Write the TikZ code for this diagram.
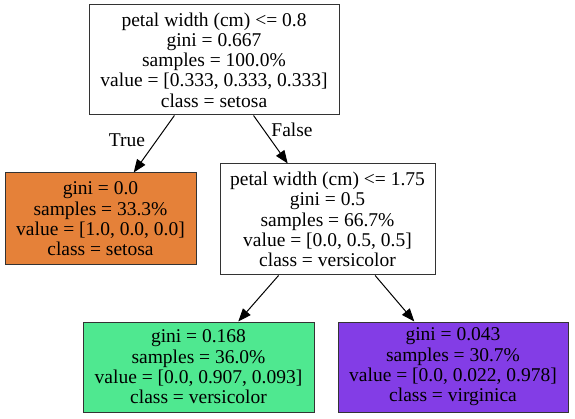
\documentclass[tikz,border=0pt]{standalone}
\usepackage{fontspec}
\setmainfont{Liberation Serif}
\usetikzlibrary{arrows.meta}
\definecolor{setosaC}{HTML}{E58139}
\definecolor{versiC}{HTML}{4FE890}
\definecolor{virgC}{HTML}{833DE6}
\definecolor{edgeC}{HTML}{333333}
\tikzset{
  treenode/.style={draw=edgeC, line width=1pt, rectangle, align=center, inner sep=0pt,
    font=\fontsize{19.5}{20.3}\selectfont},
  treeedge/.style={line width=1pt, -{Triangle[length=13pt,width=10pt]}},
  edgelabel/.style={font=\fontsize{19.5}{20.3}\selectfont, inner sep=0pt}
}
\begin{document}
\begin{tikzpicture}[x=1pt,y=-1pt]
\useasboundingbox (0,0) rectangle (575,419);
\node[treenode, minimum width=250pt, minimum height=110pt] (root) at (214,60)
  {petal width (cm) <= 0.8\\gini = 0.667\\samples = 100.0\%\\value = [0.333, 0.333, 0.333]\\class = setosa};
\node[treenode, fill=setosaC, minimum width=191pt, minimum height=92pt] (left) at (100.5,219)
  {gini = 0.0\\samples = 33.3\%\\value = [1.0, 0.0, 0.0]\\class = setosa};
\node[treenode, minimum width=215pt, minimum height=111pt] (right) at (327.5,219.5)
  {petal width (cm) <= 1.75\\gini = 0.5\\samples = 66.7\%\\value = [0.0, 0.5, 0.5]\\class = versicolor};
\node[treenode, fill=versiC, minimum width=231pt, minimum height=90pt] (bl) at (198.5,367)
  {gini = 0.168\\samples = 36.0\%\\value = [0.0, 0.907, 0.093]\\class = versicolor};
\node[treenode, fill=virgC, minimum width=230pt, minimum height=90pt] (br) at (453,367)
  {gini = 0.043\\samples = 30.7\%\\value = [0.0, 0.022, 0.978]\\class = virginica};
\draw[treeedge] (root) -- (left);
\draw[treeedge] (root) -- (right);
\draw[treeedge] (right) -- (bl);
\draw[treeedge] (right) -- (br);
\node[edgelabel] (tlab) at (127,140) {True};
\node[edgelabel] (flab) at (292,130) {False};
\end{tikzpicture}
\end{document}
